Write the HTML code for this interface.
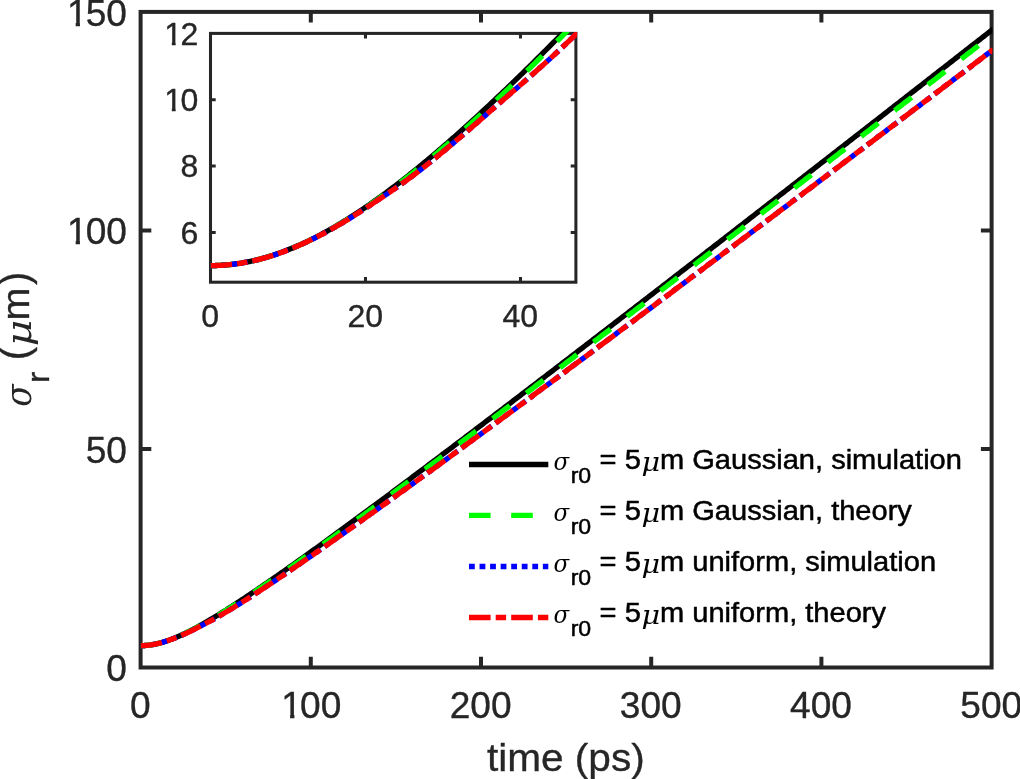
<!DOCTYPE html>
<html lang="en"><head><meta charset="utf-8"><title>sigma_r vs time</title>
<style>html,body{margin:0;padding:0;background:#fff;overflow:hidden}svg{display:block}text{font-family:"Liberation Sans",sans-serif;stroke-linejoin:round}.ax text{stroke:#262626;stroke-width:.35px}.lg text{stroke:#000;stroke-width:.5px}.lg text.g,.ax text.g{stroke:none}.g{font-family:"DejaVu Serif","Liberation Serif",serif;font-style:italic}</style></head><body>
<svg width="1020" height="779" viewBox="0 0 1020 779">
<rect width="1020" height="779" fill="#fff"/>
<defs><clipPath id="cm"><rect x="140.60" y="9.90" width="851.80" height="659.60"/></clipPath>
<clipPath id="c1m"><path clip-rule="evenodd" d="M-9,-45H130V14H-9Z M2.97,-3.90H10.68V1.86H2.97Z M14.92,-3.90H21.52V1.86H14.92Z"/></clipPath>
<clipPath id="c1i"><path clip-rule="evenodd" d="M-9,-45H130V14H-9Z M2.49,-3.27H8.88V1.56H2.49Z M12.58,-3.27H18.04V1.56H12.58Z"/></clipPath>
<clipPath id="ci"><rect x="210.50" y="32.00" width="366.60" height="250.20"/></clipPath></defs>
<g stroke="#262626" stroke-width="4.0" fill="none" stroke-linecap="butt">
<rect x="140.60" y="11.90" width="851.00" height="655.60"/>
<path d="M310.80,667.50V656.80 M310.80,11.90V22.60 M481.00,667.50V656.80 M481.00,11.90V22.60 M651.20,667.50V656.80 M651.20,11.90V22.60 M821.40,667.50V656.80 M821.40,11.90V22.60 M140.60,448.97H151.30 M991.60,448.97H980.90 M140.60,230.43H151.30 M991.60,230.43H980.90"/>
</g>
<g class="ax">
<text transform="translate(129.89,717.70) scale(1.000,1)" font-size="37.10" text-anchor="start" fill="#262626">0</text>
<text transform="translate(279.46,717.70) scale(1.000,1)" font-size="37.10" fill="#262626" dx="1.86 -1.86" clip-path="url(#c1m)">100</text>
<text transform="translate(449.66,717.70) scale(1.000,1)" font-size="37.10" text-anchor="start" fill="#262626">200</text>
<text transform="translate(619.86,717.70) scale(1.000,1)" font-size="37.10" text-anchor="start" fill="#262626">300</text>
<text transform="translate(790.06,717.70) scale(1.000,1)" font-size="37.10" text-anchor="start" fill="#262626">400</text>
<text transform="translate(960.26,717.70) scale(1.000,1)" font-size="37.10" text-anchor="start" fill="#262626">500</text>
<text transform="translate(106.27,681.10) scale(1.000,1)" font-size="37.10" text-anchor="start" fill="#262626">0</text>
<text transform="translate(85.64,462.57) scale(1.000,1)" font-size="37.10" text-anchor="start" fill="#262626">50</text>
<text transform="translate(65.02,244.03) scale(1.000,1)" font-size="37.10" fill="#262626" dx="1.86 -1.86" clip-path="url(#c1m)">100</text>
<text transform="translate(65.02,25.50) scale(1.000,1)" font-size="37.10" fill="#262626" dx="1.86 -1.86" clip-path="url(#c1m)">150</text>
</g>
<g class="ax"><text transform="translate(565.80,770.70) scale(1.025,1)" font-size="39.60" text-anchor="middle" fill="#262626">time (ps)</text></g>
<g class="ax"><text transform="translate(30.80,406.80) rotate(-90) scale(0.945,1)" font-size="34.80" fill="#262626" class="g">σ</text><text transform="translate(48.90,382.90) rotate(-90) scale(1.090,1)" font-size="31.10" fill="#262626">r</text><text transform="translate(29.00,360.30) rotate(-90) scale(1.000,1)" font-size="40.00" fill="#262626"> (</text><text transform="translate(30.90,346.35) rotate(-90) scale(1.154,1)" font-size="35.60" fill="#262626" class="g">μ</text><text transform="translate(29.00,320.40) rotate(-90) scale(1.024,1)" font-size="38.50" fill="#262626">m</text><text transform="translate(29.00,285.00) rotate(-90) scale(1.000,1)" font-size="40.00" fill="#262626">)</text></g>
<g clip-path="url(#cm)" fill="none" stroke-width="5.30" stroke-linejoin="round">
<path d="M140.60,645.65 L141.03,645.65 L141.45,645.64 L141.88,645.63 L142.30,645.63 L142.73,645.61 L143.15,645.60 L143.58,645.58 L144.00,645.56 L144.43,645.54 L144.85,645.51 L145.28,645.48 L145.71,645.45 L146.13,645.42 L146.56,645.38 L146.98,645.35 L147.41,645.31 L147.83,645.26 L148.26,645.22 L148.68,645.17 L149.11,645.11 L149.54,645.06 L149.96,645.00 L150.39,644.94 L150.81,644.88 L151.24,644.82 L151.66,644.75 L152.09,644.68 L152.51,644.61 L152.94,644.54 L153.37,644.46 L153.79,644.38 L154.22,644.30 L154.64,644.22 L155.07,644.13 L155.49,644.04 L155.92,643.95 L156.34,643.86 L156.77,643.76 L157.19,643.67 L157.62,643.57 L158.05,643.47 L158.47,643.36 L158.90,643.26 L159.32,643.15 L159.75,643.04 L160.17,642.92 L160.60,642.81 L161.02,642.69 L161.45,642.57 L161.88,642.45 L162.30,642.33 L162.73,642.20 L163.15,642.08 L163.58,641.95 L164.00,641.82 L164.43,641.68 L164.85,641.55 L165.28,641.41 L165.70,641.27 L166.13,641.13 L166.56,640.99 L166.98,640.84 L167.41,640.70 L167.83,640.55 L168.26,640.40 L168.68,640.25 L169.11,640.10 L169.53,639.94 L169.96,639.79 L170.38,639.63 L170.81,639.47 L171.24,639.31 L171.66,639.14 L172.09,638.98 L172.51,638.81 L172.94,638.65 L173.36,638.48 L173.79,638.31 L174.21,638.13 L174.64,637.96 L175.07,637.79 L175.49,637.61 L175.92,637.43 L176.34,637.25 L176.77,637.07 L177.19,636.89 L177.62,636.71 L178.04,636.52 L178.47,636.33 L178.89,636.15 L179.32,635.96 L179.75,635.77 L180.17,635.58 L180.60,635.39 L181.02,635.19 L181.45,635.00 L181.87,634.80 L182.30,634.60 L182.72,634.41 L183.15,634.21 L183.58,634.00 L184.00,633.80 L184.43,633.60 L184.85,633.40 L185.28,633.19 L185.70,632.98 L186.13,632.78 L186.55,632.57 L186.98,632.36 L187.41,632.15 L187.83,631.94 L188.26,631.73 L188.68,631.51 L189.11,631.30 L189.53,631.08 L189.96,630.87 L190.38,630.65 L190.81,630.43 L191.23,630.21 L191.66,629.99 L192.09,629.77 L192.51,629.55 L192.94,629.33 L193.36,629.10 L193.79,628.88 L194.21,628.65 L194.64,628.43 L195.06,628.20 L195.49,627.97 L195.91,627.74 L196.34,627.51 L196.77,627.28 L197.19,627.05 L197.62,626.82 L198.04,626.59 L198.47,626.36 L198.89,626.12 L199.32,625.89 L199.74,625.65 L200.17,625.42 L200.60,625.18 L201.02,624.94 L201.45,624.70 L201.87,624.47 L202.30,624.23 L202.72,623.99 L203.15,623.74 L203.57,623.50 L204.00,623.26 L204.43,623.02 L204.85,622.78 L205.28,622.53 L205.70,622.29 L206.13,622.04 L206.55,621.80 L206.98,621.55 L207.40,621.30 L207.83,621.05 L208.25,620.81 L208.68,620.56 L209.11,620.31 L209.53,620.06 L209.96,619.81 L210.38,619.56 L210.81,619.30 L211.23,619.05 L211.66,618.80 L212.08,618.55 L212.51,618.29 L212.94,618.04 L213.36,617.78 L213.79,617.53 L214.21,617.27 L214.64,617.02 L215.06,616.76 L215.49,616.50 L215.91,616.24 L216.34,615.99 L216.76,615.73 L217.19,615.47 L217.62,615.21 L218.04,614.95 L218.47,614.69 L218.89,614.43 L219.32,614.16 L219.74,613.90 L220.17,613.64 L220.59,613.38 L221.02,613.11 L221.44,612.85 L221.87,612.59 L222.30,612.32 L222.72,612.06 L223.15,611.79 L223.57,611.53 L224.00,611.26 L224.42,610.99 L224.85,610.73 L225.27,610.46 L225.70,610.19 L226.13,609.93 L226.55,609.66 L226.98,609.39 L227.40,609.12 L227.83,608.85 L228.25,608.58 L228.68,608.31 L229.10,608.04 L229.53,607.77 L229.95,607.50 L230.38,607.23 L230.81,606.95 L231.23,606.68 L231.66,606.41 L232.08,606.14 L232.51,605.86 L232.93,605.59 L233.36,605.31 L233.78,605.04 L234.21,604.77 L234.64,604.49 L235.06,604.22 L235.49,603.94 L235.91,603.66 L236.34,603.39 L236.76,603.11 L237.19,602.84 L237.61,602.56 L238.04,602.28 L238.46,602.00 L238.89,601.73 L239.32,601.45 L239.74,601.17 L240.17,600.89 L240.59,600.61 L241.02,600.33 L241.44,600.05 L241.87,599.77 L242.29,599.49 L242.72,599.21 L244.42,598.09 L246.12,596.96 L247.83,595.83 L249.53,594.69 L251.23,593.55 L252.93,592.41 L254.63,591.26 L256.34,590.11 L258.04,588.96 L259.74,587.80 L261.44,586.64 L263.14,585.48 L264.85,584.31 L266.55,583.14 L268.25,581.97 L269.95,580.80 L271.65,579.62 L273.36,578.44 L275.06,577.26 L276.76,576.07 L278.46,574.89 L280.16,573.70 L281.87,572.51 L283.57,571.31 L285.27,570.12 L286.97,568.92 L288.67,567.72 L290.38,566.52 L292.08,565.32 L293.78,564.11 L295.48,562.90 L297.18,561.69 L298.89,560.48 L300.59,559.27 L302.29,558.06 L303.99,556.84 L305.69,555.62 L307.40,554.40 L309.10,553.18 L310.80,551.96 L312.50,550.74 L314.20,549.51 L315.91,548.29 L317.61,547.06 L319.31,545.83 L321.01,544.60 L322.71,543.37 L324.42,542.13 L326.12,540.90 L327.82,539.66 L329.52,538.43 L331.22,537.19 L332.93,535.95 L334.63,534.71 L336.33,533.47 L338.03,532.23 L339.73,530.98 L341.44,529.74 L343.14,528.49 L344.84,527.25 L346.54,526.00 L348.24,524.75 L349.95,523.50 L351.65,522.25 L353.35,521.00 L355.05,519.75 L356.75,518.50 L358.46,517.24 L360.16,515.99 L361.86,514.73 L363.56,513.48 L365.26,512.22 L366.97,510.96 L368.67,509.70 L370.37,508.44 L372.07,507.18 L373.77,505.92 L375.48,504.66 L377.18,503.40 L378.88,502.13 L380.58,500.87 L382.28,499.61 L383.99,498.34 L385.69,497.07 L387.39,495.81 L389.09,494.54 L390.79,493.27 L392.50,492.00 L394.20,490.73 L395.90,489.46 L397.60,488.19 L399.30,486.92 L401.01,485.65 L402.71,484.38 L404.41,483.11 L406.11,481.83 L407.81,480.56 L409.52,479.28 L411.22,478.01 L412.92,476.73 L414.62,475.46 L416.32,474.18 L418.03,472.90 L419.73,471.62 L421.43,470.35 L423.13,469.07 L424.83,467.79 L426.54,466.51 L428.24,465.23 L429.94,463.95 L431.64,462.67 L433.34,461.39 L435.05,460.10 L436.75,458.82 L438.45,457.54 L440.15,456.25 L441.85,454.97 L443.56,453.69 L445.26,452.40 L446.96,451.12 L448.66,449.83 L450.36,448.55 L452.07,447.26 L453.77,445.97 L455.47,444.69 L457.17,443.40 L458.87,442.11 L460.58,440.82 L462.28,439.53 L463.98,438.25 L465.68,436.96 L467.38,435.67 L469.09,434.38 L470.79,433.09 L472.49,431.80 L474.19,430.50 L475.89,429.21 L477.60,427.92 L479.30,426.63 L481.00,425.34 L482.70,424.04 L484.40,422.75 L486.11,421.46 L487.81,420.16 L489.51,418.87 L491.21,417.58 L492.91,416.28 L494.62,414.99 L496.32,413.69 L498.02,412.40 L499.72,411.10 L501.42,409.80 L503.13,408.51 L504.83,407.21 L506.53,405.91 L508.23,404.62 L509.93,403.32 L511.64,402.02 L513.34,400.72 L515.04,399.42 L516.74,398.13 L518.44,396.83 L520.15,395.53 L521.85,394.23 L523.55,392.93 L525.25,391.63 L526.95,390.33 L528.66,389.03 L530.36,387.73 L532.06,386.43 L533.76,385.13 L535.46,383.82 L537.17,382.52 L538.87,381.22 L540.57,379.92 L542.27,378.62 L543.97,377.31 L545.68,376.01 L547.38,374.71 L549.08,373.41 L550.78,372.10 L552.48,370.80 L554.19,369.49 L555.89,368.19 L557.59,366.89 L559.29,365.58 L560.99,364.28 L562.70,362.97 L564.40,361.67 L566.10,360.36 L567.80,359.06 L569.50,357.75 L571.21,356.44 L572.91,355.14 L574.61,353.83 L576.31,352.53 L578.01,351.22 L579.72,349.91 L581.42,348.60 L583.12,347.30 L584.82,345.99 L586.52,344.68 L588.23,343.37 L589.93,342.07 L591.63,340.76 L593.33,339.45 L595.03,338.14 L596.74,336.83 L598.44,335.52 L600.14,334.21 L601.84,332.91 L603.54,331.60 L605.25,330.29 L606.95,328.98 L608.65,327.67 L610.35,326.36 L612.05,325.05 L613.76,323.74 L615.46,322.43 L617.16,321.12 L618.86,319.80 L620.56,318.49 L622.27,317.18 L623.97,315.87 L625.67,314.56 L627.37,313.25 L629.07,311.94 L630.78,310.62 L632.48,309.31 L634.18,308.00 L635.88,306.69 L637.58,305.38 L639.29,304.06 L640.99,302.75 L642.69,301.44 L644.39,300.12 L646.09,298.81 L647.80,297.50 L649.50,296.18 L651.20,294.87 L652.90,293.56 L654.60,292.24 L656.31,290.93 L658.01,289.61 L659.71,288.30 L661.41,286.99 L663.11,285.67 L664.82,284.36 L666.52,283.04 L668.22,281.73 L669.92,280.41 L671.62,279.10 L673.33,277.78 L675.03,276.46 L676.73,275.15 L678.43,273.83 L680.13,272.52 L681.84,271.20 L683.54,269.89 L685.24,268.57 L686.94,267.25 L688.64,265.94 L690.35,264.62 L692.05,263.30 L693.75,261.99 L695.45,260.67 L697.15,259.35 L698.86,258.04 L700.56,256.72 L702.26,255.40 L703.96,254.08 L705.66,252.77 L707.37,251.45 L709.07,250.13 L710.77,248.81 L712.47,247.49 L714.17,246.18 L715.88,244.86 L717.58,243.54 L719.28,242.22 L720.98,240.90 L722.68,239.58 L724.39,238.27 L726.09,236.95 L727.79,235.63 L729.49,234.31 L731.19,232.99 L732.90,231.67 L734.60,230.35 L736.30,229.03 L738.00,227.71 L739.70,226.39 L741.41,225.07 L743.11,223.75 L744.81,222.43 L746.51,221.11 L748.21,219.79 L749.92,218.47 L751.62,217.15 L753.32,215.83 L755.02,214.51 L756.72,213.19 L758.43,211.87 L760.13,210.55 L761.83,209.23 L763.53,207.91 L765.23,206.59 L766.94,205.27 L768.64,203.94 L770.34,202.62 L772.04,201.30 L773.74,199.98 L775.45,198.66 L777.15,197.34 L778.85,196.02 L780.55,194.69 L782.25,193.37 L783.96,192.05 L785.66,190.73 L787.36,189.41 L789.06,188.08 L790.76,186.76 L792.47,185.44 L794.17,184.12 L795.87,182.79 L797.57,181.47 L799.27,180.15 L800.98,178.83 L802.68,177.50 L804.38,176.18 L806.08,174.86 L807.78,173.53 L809.49,172.21 L811.19,170.89 L812.89,169.56 L814.59,168.24 L816.29,166.92 L818.00,165.59 L819.70,164.27 L821.40,162.95 L823.10,161.62 L824.80,160.30 L826.51,158.97 L828.21,157.65 L829.91,156.33 L831.61,155.00 L833.31,153.68 L835.02,152.35 L836.72,151.03 L838.42,149.70 L840.12,148.38 L841.82,147.06 L843.53,145.73 L845.23,144.41 L846.93,143.08 L848.63,141.76 L850.33,140.43 L852.04,139.11 L853.74,137.78 L855.44,136.46 L857.14,135.13 L858.84,133.81 L860.55,132.48 L862.25,131.16 L863.95,129.83 L865.65,128.50 L867.35,127.18 L869.06,125.85 L870.76,124.53 L872.46,123.20 L874.16,121.88 L875.86,120.55 L877.57,119.22 L879.27,117.90 L880.97,116.57 L882.67,115.25 L884.37,113.92 L886.08,112.59 L887.78,111.27 L889.48,109.94 L891.18,108.61 L892.88,107.29 L894.59,105.96 L896.29,104.63 L897.99,103.31 L899.69,101.98 L901.39,100.65 L903.10,99.33 L904.80,98.00 L906.50,96.67 L908.20,95.35 L909.90,94.02 L911.61,92.69 L913.31,91.37 L915.01,90.04 L916.71,88.71 L918.41,87.38 L920.12,86.06 L921.82,84.73 L923.52,83.40 L925.22,82.07 L926.92,80.75 L928.63,79.42 L930.33,78.09 L932.03,76.76 L933.73,75.43 L935.43,74.11 L937.14,72.78 L938.84,71.45 L940.54,70.12 L942.24,68.79 L943.94,67.47 L945.65,66.14 L947.35,64.81 L949.05,63.48 L950.75,62.15 L952.45,60.82 L954.16,59.50 L955.86,58.17 L957.56,56.84 L959.26,55.51 L960.96,54.18 L962.67,52.85 L964.37,51.52 L966.07,50.20 L967.77,48.87 L969.47,47.54 L971.18,46.21 L972.88,44.88 L974.58,43.55 L976.28,42.22 L977.98,40.89 L979.69,39.56 L981.39,38.23 L983.09,36.90 L984.79,35.57 L986.49,34.25 L988.20,32.92 L989.90,31.59 L991.60,30.26 L993.30,28.93" stroke="#000000"/>
<path d="M140.60,645.65 L141.03,645.65 L141.45,645.64 L141.88,645.63 L142.30,645.63 L142.73,645.61 L143.15,645.60 L143.58,645.58 L144.00,645.56 L144.43,645.54 L144.85,645.51 L145.28,645.49 L145.71,645.45 L146.13,645.42 L146.56,645.39 L146.98,645.35 L147.41,645.31 L147.83,645.26 L148.26,645.22 L148.68,645.17 L149.11,645.12 L149.54,645.06 L149.96,645.01 L150.39,644.95 L150.81,644.89 L151.24,644.82 L151.66,644.76 L152.09,644.69 L152.51,644.62 L152.94,644.54 L153.37,644.47 L153.79,644.39 L154.22,644.31 L154.64,644.22 L155.07,644.14 L155.49,644.05 L155.92,643.96 L156.34,643.87 L156.77,643.77 L157.19,643.68 L157.62,643.58 L158.05,643.48 L158.47,643.37 L158.90,643.27 L159.32,643.16 L159.75,643.05 L160.17,642.94 L160.60,642.82 L161.02,642.71 L161.45,642.59 L161.88,642.47 L162.30,642.35 L162.73,642.22 L163.15,642.10 L163.58,641.97 L164.00,641.84 L164.43,641.71 L164.85,641.57 L165.28,641.44 L165.70,641.30 L166.13,641.16 L166.56,641.02 L166.98,640.88 L167.41,640.73 L167.83,640.59 L168.26,640.44 L168.68,640.29 L169.11,640.14 L169.53,639.99 L169.96,639.83 L170.38,639.67 L170.81,639.52 L171.24,639.36 L171.66,639.20 L172.09,639.03 L172.51,638.87 L172.94,638.70 L173.36,638.54 L173.79,638.37 L174.21,638.20 L174.64,638.02 L175.07,637.85 L175.49,637.68 L175.92,637.50 L176.34,637.32 L176.77,637.15 L177.19,636.97 L177.62,636.78 L178.04,636.60 L178.47,636.42 L178.89,636.23 L179.32,636.05 L179.75,635.86 L180.17,635.67 L180.60,635.48 L181.02,635.29 L181.45,635.10 L181.87,634.90 L182.30,634.71 L182.72,634.51 L183.15,634.31 L183.58,634.11 L184.00,633.92 L184.43,633.71 L184.85,633.51 L185.28,633.31 L185.70,633.11 L186.13,632.90 L186.55,632.70 L186.98,632.49 L187.41,632.28 L187.83,632.07 L188.26,631.86 L188.68,631.65 L189.11,631.44 L189.53,631.23 L189.96,631.01 L190.38,630.80 L190.81,630.58 L191.23,630.37 L191.66,630.15 L192.09,629.93 L192.51,629.71 L192.94,629.49 L193.36,629.27 L193.79,629.05 L194.21,628.83 L194.64,628.60 L195.06,628.38 L195.49,628.15 L195.91,627.93 L196.34,627.70 L196.77,627.47 L197.19,627.25 L197.62,627.02 L198.04,626.79 L198.47,626.56 L198.89,626.33 L199.32,626.09 L199.74,625.86 L200.17,625.63 L200.60,625.39 L201.02,625.16 L201.45,624.92 L201.87,624.69 L202.30,624.45 L202.72,624.21 L203.15,623.98 L203.57,623.74 L204.00,623.50 L204.43,623.26 L204.85,623.02 L205.28,622.78 L205.70,622.53 L206.13,622.29 L206.55,622.05 L206.98,621.81 L207.40,621.56 L207.83,621.32 L208.25,621.07 L208.68,620.83 L209.11,620.58 L209.53,620.33 L209.96,620.08 L210.38,619.84 L210.81,619.59 L211.23,619.34 L211.66,619.09 L212.08,618.84 L212.51,618.59 L212.94,618.34 L213.36,618.08 L213.79,617.83 L214.21,617.58 L214.64,617.32 L215.06,617.07 L215.49,616.82 L215.91,616.56 L216.34,616.31 L216.76,616.05 L217.19,615.79 L217.62,615.54 L218.04,615.28 L218.47,615.02 L218.89,614.76 L219.32,614.51 L219.74,614.25 L220.17,613.99 L220.59,613.73 L221.02,613.47 L221.44,613.21 L221.87,612.95 L222.30,612.68 L222.72,612.42 L223.15,612.16 L223.57,611.90 L224.00,611.64 L224.42,611.37 L224.85,611.11 L225.27,610.84 L225.70,610.58 L226.13,610.31 L226.55,610.05 L226.98,609.78 L227.40,609.52 L227.83,609.25 L228.25,608.98 L228.68,608.72 L229.10,608.45 L229.53,608.18 L229.95,607.91 L230.38,607.64 L230.81,607.37 L231.23,607.11 L231.66,606.84 L232.08,606.57 L232.51,606.30 L232.93,606.02 L233.36,605.75 L233.78,605.48 L234.21,605.21 L234.64,604.94 L235.06,604.67 L235.49,604.39 L235.91,604.12 L236.34,603.85 L236.76,603.57 L237.19,603.30 L237.61,603.03 L238.04,602.75 L238.46,602.48 L238.89,602.20 L239.32,601.93 L239.74,601.65 L240.17,601.38 L240.59,601.10 L241.02,600.82 L241.44,600.55 L241.87,600.27 L242.29,599.99 L242.72,599.72 L244.42,598.60 L246.12,597.49 L247.83,596.37 L249.53,595.24 L251.23,594.11 L252.93,592.98 L254.63,591.85 L256.34,590.71 L258.04,589.57 L259.74,588.42 L261.44,587.27 L263.14,586.12 L264.85,584.97 L266.55,583.81 L268.25,582.65 L269.95,581.49 L271.65,580.32 L273.36,579.15 L275.06,577.98 L276.76,576.81 L278.46,575.63 L280.16,574.46 L281.87,573.28 L283.57,572.09 L285.27,570.91 L286.97,569.72 L288.67,568.54 L290.38,567.35 L292.08,566.15 L293.78,564.96 L295.48,563.76 L297.18,562.57 L298.89,561.37 L300.59,560.16 L302.29,558.96 L303.99,557.76 L305.69,556.55 L307.40,555.34 L309.10,554.13 L310.80,552.92 L312.50,551.71 L314.20,550.50 L315.91,549.28 L317.61,548.07 L319.31,546.85 L321.01,545.63 L322.71,544.41 L324.42,543.19 L326.12,541.96 L327.82,540.74 L329.52,539.51 L331.22,538.29 L332.93,537.06 L334.63,535.83 L336.33,534.60 L338.03,533.37 L339.73,532.14 L341.44,530.90 L343.14,529.67 L344.84,528.43 L346.54,527.20 L348.24,525.96 L349.95,524.72 L351.65,523.48 L353.35,522.24 L355.05,521.00 L356.75,519.76 L358.46,518.52 L360.16,517.27 L361.86,516.03 L363.56,514.78 L365.26,513.54 L366.97,512.29 L368.67,511.04 L370.37,509.79 L372.07,508.54 L373.77,507.29 L375.48,506.04 L377.18,504.79 L378.88,503.54 L380.58,502.28 L382.28,501.03 L383.99,499.78 L385.69,498.52 L387.39,497.27 L389.09,496.01 L390.79,494.75 L392.50,493.49 L394.20,492.24 L395.90,490.98 L397.60,489.72 L399.30,488.46 L401.01,487.20 L402.71,485.93 L404.41,484.67 L406.11,483.41 L407.81,482.15 L409.52,480.88 L411.22,479.62 L412.92,478.35 L414.62,477.09 L416.32,475.82 L418.03,474.56 L419.73,473.29 L421.43,472.02 L423.13,470.75 L424.83,469.49 L426.54,468.22 L428.24,466.95 L429.94,465.68 L431.64,464.41 L433.34,463.14 L435.05,461.87 L436.75,460.59 L438.45,459.32 L440.15,458.05 L441.85,456.78 L443.56,455.50 L445.26,454.23 L446.96,452.95 L448.66,451.68 L450.36,450.40 L452.07,449.13 L453.77,447.85 L455.47,446.58 L457.17,445.30 L458.87,444.02 L460.58,442.75 L462.28,441.47 L463.98,440.19 L465.68,438.91 L467.38,437.63 L469.09,436.35 L470.79,435.07 L472.49,433.79 L474.19,432.51 L475.89,431.23 L477.60,429.95 L479.30,428.67 L481.00,427.39 L482.70,426.11 L484.40,424.82 L486.11,423.54 L487.81,422.26 L489.51,420.97 L491.21,419.69 L492.91,418.41 L494.62,417.12 L496.32,415.84 L498.02,414.55 L499.72,413.27 L501.42,411.98 L503.13,410.70 L504.83,409.41 L506.53,408.13 L508.23,406.84 L509.93,405.55 L511.64,404.26 L513.34,402.98 L515.04,401.69 L516.74,400.40 L518.44,399.11 L520.15,397.83 L521.85,396.54 L523.55,395.25 L525.25,393.96 L526.95,392.67 L528.66,391.38 L530.36,390.09 L532.06,388.80 L533.76,387.51 L535.46,386.22 L537.17,384.93 L538.87,383.64 L540.57,382.34 L542.27,381.05 L543.97,379.76 L545.68,378.47 L547.38,377.18 L549.08,375.88 L550.78,374.59 L552.48,373.30 L554.19,372.00 L555.89,370.71 L557.59,369.42 L559.29,368.12 L560.99,366.83 L562.70,365.54 L564.40,364.24 L566.10,362.95 L567.80,361.65 L569.50,360.36 L571.21,359.06 L572.91,357.77 L574.61,356.47 L576.31,355.17 L578.01,353.88 L579.72,352.58 L581.42,351.29 L583.12,349.99 L584.82,348.69 L586.52,347.40 L588.23,346.10 L589.93,344.80 L591.63,343.50 L593.33,342.21 L595.03,340.91 L596.74,339.61 L598.44,338.31 L600.14,337.01 L601.84,335.71 L603.54,334.42 L605.25,333.12 L606.95,331.82 L608.65,330.52 L610.35,329.22 L612.05,327.92 L613.76,326.62 L615.46,325.32 L617.16,324.02 L618.86,322.72 L620.56,321.42 L622.27,320.12 L623.97,318.82 L625.67,317.52 L627.37,316.22 L629.07,314.91 L630.78,313.61 L632.48,312.31 L634.18,311.01 L635.88,309.71 L637.58,308.41 L639.29,307.10 L640.99,305.80 L642.69,304.50 L644.39,303.20 L646.09,301.89 L647.80,300.59 L649.50,299.29 L651.20,297.99 L652.90,296.68 L654.60,295.38 L656.31,294.08 L658.01,292.77 L659.71,291.47 L661.41,290.16 L663.11,288.86 L664.82,287.56 L666.52,286.25 L668.22,284.95 L669.92,283.64 L671.62,282.34 L673.33,281.03 L675.03,279.73 L676.73,278.42 L678.43,277.12 L680.13,275.81 L681.84,274.51 L683.54,273.20 L685.24,271.90 L686.94,270.59 L688.64,269.29 L690.35,267.98 L692.05,266.67 L693.75,265.37 L695.45,264.06 L697.15,262.75 L698.86,261.45 L700.56,260.14 L702.26,258.83 L703.96,257.53 L705.66,256.22 L707.37,254.91 L709.07,253.61 L710.77,252.30 L712.47,250.99 L714.17,249.68 L715.88,248.38 L717.58,247.07 L719.28,245.76 L720.98,244.45 L722.68,243.14 L724.39,241.84 L726.09,240.53 L727.79,239.22 L729.49,237.91 L731.19,236.60 L732.90,235.29 L734.60,233.99 L736.30,232.68 L738.00,231.37 L739.70,230.06 L741.41,228.75 L743.11,227.44 L744.81,226.13 L746.51,224.82 L748.21,223.51 L749.92,222.20 L751.62,220.89 L753.32,219.58 L755.02,218.27 L756.72,216.96 L758.43,215.65 L760.13,214.34 L761.83,213.03 L763.53,211.72 L765.23,210.41 L766.94,209.10 L768.64,207.79 L770.34,206.48 L772.04,205.17 L773.74,203.86 L775.45,202.55 L777.15,201.24 L778.85,199.92 L780.55,198.61 L782.25,197.30 L783.96,195.99 L785.66,194.68 L787.36,193.37 L789.06,192.06 L790.76,190.74 L792.47,189.43 L794.17,188.12 L795.87,186.81 L797.57,185.50 L799.27,184.18 L800.98,182.87 L802.68,181.56 L804.38,180.25 L806.08,178.93 L807.78,177.62 L809.49,176.31 L811.19,175.00 L812.89,173.68 L814.59,172.37 L816.29,171.06 L818.00,169.74 L819.70,168.43 L821.40,167.12 L823.10,165.80 L824.80,164.49 L826.51,163.18 L828.21,161.86 L829.91,160.55 L831.61,159.24 L833.31,157.92 L835.02,156.61 L836.72,155.30 L838.42,153.98 L840.12,152.67 L841.82,151.35 L843.53,150.04 L845.23,148.73 L846.93,147.41 L848.63,146.10 L850.33,144.78 L852.04,143.47 L853.74,142.15 L855.44,140.84 L857.14,139.53 L858.84,138.21 L860.55,136.90 L862.25,135.58 L863.95,134.27 L865.65,132.95 L867.35,131.64 L869.06,130.32 L870.76,129.01 L872.46,127.69 L874.16,126.38 L875.86,125.06 L877.57,123.74 L879.27,122.43 L880.97,121.11 L882.67,119.80 L884.37,118.48 L886.08,117.17 L887.78,115.85 L889.48,114.53 L891.18,113.22 L892.88,111.90 L894.59,110.59 L896.29,109.27 L897.99,107.95 L899.69,106.64 L901.39,105.32 L903.10,104.01 L904.80,102.69 L906.50,101.37 L908.20,100.06 L909.90,98.74 L911.61,97.42 L913.31,96.11 L915.01,94.79 L916.71,93.47 L918.41,92.16 L920.12,90.84 L921.82,89.52 L923.52,88.21 L925.22,86.89 L926.92,85.57 L928.63,84.25 L930.33,82.94 L932.03,81.62 L933.73,80.30 L935.43,78.98 L937.14,77.67 L938.84,76.35 L940.54,75.03 L942.24,73.71 L943.94,72.40 L945.65,71.08 L947.35,69.76 L949.05,68.44 L950.75,67.13 L952.45,65.81 L954.16,64.49 L955.86,63.17 L957.56,61.85 L959.26,60.54 L960.96,59.22 L962.67,57.90 L964.37,56.58 L966.07,55.26 L967.77,53.94 L969.47,52.63 L971.18,51.31 L972.88,49.99 L974.58,48.67 L976.28,47.35 L977.98,46.03 L979.69,44.71 L981.39,43.40 L983.09,42.08 L984.79,40.76 L986.49,39.44 L988.20,38.12 L989.90,36.80 L991.60,35.48 L993.30,34.16" stroke="#00ff00" stroke-dasharray="21.6 20.6"/>
<path d="M140.60,645.65 L141.03,645.65 L141.45,645.64 L141.88,645.63 L142.30,645.63 L142.73,645.61 L143.15,645.60 L143.58,645.58 L144.00,645.56 L144.43,645.54 L144.85,645.51 L145.28,645.49 L145.71,645.46 L146.13,645.42 L146.56,645.39 L146.98,645.35 L147.41,645.31 L147.83,645.27 L148.26,645.22 L148.68,645.17 L149.11,645.12 L149.54,645.07 L149.96,645.01 L150.39,644.95 L150.81,644.89 L151.24,644.83 L151.66,644.76 L152.09,644.69 L152.51,644.62 L152.94,644.55 L153.37,644.47 L153.79,644.39 L154.22,644.31 L154.64,644.23 L155.07,644.15 L155.49,644.06 L155.92,643.97 L156.34,643.88 L156.77,643.78 L157.19,643.68 L157.62,643.59 L158.05,643.48 L158.47,643.38 L158.90,643.28 L159.32,643.17 L159.75,643.06 L160.17,642.95 L160.60,642.83 L161.02,642.72 L161.45,642.60 L161.88,642.48 L162.30,642.36 L162.73,642.24 L163.15,642.11 L163.58,641.98 L164.00,641.86 L164.43,641.72 L164.85,641.59 L165.28,641.46 L165.70,641.32 L166.13,641.18 L166.56,641.04 L166.98,640.90 L167.41,640.76 L167.83,640.62 L168.26,640.47 L168.68,640.32 L169.11,640.17 L169.53,640.02 L169.96,639.87 L170.38,639.71 L170.81,639.56 L171.24,639.40 L171.66,639.24 L172.09,639.08 L172.51,638.92 L172.94,638.76 L173.36,638.59 L173.79,638.43 L174.21,638.26 L174.64,638.09 L175.07,637.92 L175.49,637.75 L175.92,637.58 L176.34,637.42 L176.77,637.25 L177.19,637.08 L177.62,636.91 L178.04,636.74 L178.47,636.57 L178.89,636.40 L179.32,636.22 L179.75,636.05 L180.17,635.88 L180.60,635.70 L181.02,635.53 L181.45,635.35 L181.87,635.17 L182.30,634.99 L182.72,634.81 L183.15,634.63 L183.58,634.44 L184.00,634.26 L184.43,634.07 L184.85,633.88 L185.28,633.68 L185.70,633.49 L186.13,633.29 L186.55,633.10 L186.98,632.90 L187.41,632.70 L187.83,632.50 L188.26,632.30 L188.68,632.09 L189.11,631.89 L189.53,631.68 L189.96,631.48 L190.38,631.27 L190.81,631.06 L191.23,630.85 L191.66,630.64 L192.09,630.43 L192.51,630.22 L192.94,630.00 L193.36,629.79 L193.79,629.58 L194.21,629.36 L194.64,629.14 L195.06,628.93 L195.49,628.71 L195.91,628.49 L196.34,628.27 L196.77,628.05 L197.19,627.83 L197.62,627.61 L198.04,627.39 L198.47,627.17 L198.89,626.95 L199.32,626.72 L199.74,626.50 L200.17,626.28 L200.60,626.05 L201.02,625.83 L201.45,625.61 L201.87,625.38 L202.30,625.16 L202.72,624.94 L203.15,624.71 L203.57,624.49 L204.00,624.27 L204.43,624.05 L204.85,623.82 L205.28,623.60 L205.70,623.38 L206.13,623.16 L206.55,622.94 L206.98,622.72 L207.40,622.50 L207.83,622.28 L208.25,622.05 L208.68,621.83 L209.11,621.61 L209.53,621.39 L209.96,621.17 L210.38,620.94 L210.81,620.72 L211.23,620.49 L211.66,620.27 L212.08,620.04 L212.51,619.82 L212.94,619.59 L213.36,619.36 L213.79,619.14 L214.21,618.91 L214.64,618.68 L215.06,618.44 L215.49,618.21 L215.91,617.98 L216.34,617.74 L216.76,617.51 L217.19,617.27 L217.62,617.03 L218.04,616.79 L218.47,616.55 L218.89,616.31 L219.32,616.06 L219.74,615.82 L220.17,615.57 L220.59,615.33 L221.02,615.08 L221.44,614.83 L221.87,614.58 L222.30,614.33 L222.72,614.08 L223.15,613.83 L223.57,613.58 L224.00,613.33 L224.42,613.08 L224.85,612.83 L225.27,612.58 L225.70,612.32 L226.13,612.07 L226.55,611.81 L226.98,611.56 L227.40,611.30 L227.83,611.05 L228.25,610.79 L228.68,610.53 L229.10,610.28 L229.53,610.02 L229.95,609.76 L230.38,609.50 L230.81,609.24 L231.23,608.98 L231.66,608.72 L232.08,608.46 L232.51,608.20 L232.93,607.94 L233.36,607.68 L233.78,607.42 L234.21,607.15 L234.64,606.89 L235.06,606.63 L235.49,606.36 L235.91,606.10 L236.34,605.84 L236.76,605.57 L237.19,605.31 L237.61,605.04 L238.04,604.77 L238.46,604.51 L238.89,604.24 L239.32,603.98 L239.74,603.71 L240.17,603.44 L240.59,603.17 L241.02,602.91 L241.44,602.64 L241.87,602.37 L242.29,602.10 L242.72,601.83 L244.42,600.76 L246.12,599.68 L247.83,598.59 L249.53,597.50 L251.23,596.40 L252.93,595.31 L254.63,594.20 L256.34,593.10 L258.04,591.98 L259.74,590.87 L261.44,589.75 L263.14,588.63 L264.85,587.51 L266.55,586.38 L268.25,585.25 L269.95,584.12 L271.65,582.98 L273.36,581.84 L275.06,580.70 L276.76,579.55 L278.46,578.41 L280.16,577.26 L281.87,576.11 L283.57,574.95 L285.27,573.80 L286.97,572.64 L288.67,571.48 L290.38,570.32 L292.08,569.15 L293.78,567.99 L295.48,566.82 L297.18,565.65 L298.89,564.48 L300.59,563.31 L302.29,562.13 L303.99,560.96 L305.69,559.78 L307.40,558.60 L309.10,557.42 L310.80,556.24 L312.50,555.06 L314.20,553.88 L315.91,552.70 L317.61,551.51 L319.31,550.32 L321.01,549.14 L322.71,547.95 L324.42,546.76 L326.12,545.56 L327.82,544.37 L329.52,543.18 L331.22,541.98 L332.93,540.79 L334.63,539.59 L336.33,538.39 L338.03,537.19 L339.73,535.99 L341.44,534.79 L343.14,533.59 L344.84,532.38 L346.54,531.18 L348.24,529.97 L349.95,528.77 L351.65,527.56 L353.35,526.35 L355.05,525.14 L356.75,523.93 L358.46,522.72 L360.16,521.51 L361.86,520.30 L363.56,519.08 L365.26,517.87 L366.97,516.66 L368.67,515.44 L370.37,514.22 L372.07,513.01 L373.77,511.79 L375.48,510.57 L377.18,509.35 L378.88,508.13 L380.58,506.91 L382.28,505.69 L383.99,504.47 L385.69,503.25 L387.39,502.02 L389.09,500.80 L390.79,499.57 L392.50,498.35 L394.20,497.12 L395.90,495.90 L397.60,494.67 L399.30,493.44 L401.01,492.21 L402.71,490.98 L404.41,489.75 L406.11,488.52 L407.81,487.29 L409.52,486.06 L411.22,484.83 L412.92,483.60 L414.62,482.37 L416.32,481.13 L418.03,479.90 L419.73,478.66 L421.43,477.43 L423.13,476.19 L424.83,474.96 L426.54,473.72 L428.24,472.48 L429.94,471.25 L431.64,470.01 L433.34,468.77 L435.05,467.53 L436.75,466.29 L438.45,465.05 L440.15,463.81 L441.85,462.57 L443.56,461.33 L445.26,460.09 L446.96,458.84 L448.66,457.60 L450.36,456.36 L452.07,455.12 L453.77,453.87 L455.47,452.63 L457.17,451.38 L458.87,450.14 L460.58,448.89 L462.28,447.65 L463.98,446.40 L465.68,445.15 L467.38,443.90 L469.09,442.66 L470.79,441.41 L472.49,440.16 L474.19,438.91 L475.89,437.66 L477.60,436.41 L479.30,435.16 L481.00,433.91 L482.70,432.66 L484.40,431.41 L486.11,430.16 L487.81,428.90 L489.51,427.65 L491.21,426.40 L492.91,425.15 L494.62,423.89 L496.32,422.64 L498.02,421.39 L499.72,420.13 L501.42,418.88 L503.13,417.62 L504.83,416.37 L506.53,415.11 L508.23,413.86 L509.93,412.60 L511.64,411.34 L513.34,410.09 L515.04,408.83 L516.74,407.57 L518.44,406.31 L520.15,405.06 L521.85,403.80 L523.55,402.54 L525.25,401.28 L526.95,400.02 L528.66,398.76 L530.36,397.51 L532.06,396.25 L533.76,394.99 L535.46,393.73 L537.17,392.47 L538.87,391.21 L540.57,389.94 L542.27,388.68 L543.97,387.42 L545.68,386.16 L547.38,384.90 L549.08,383.64 L550.78,382.38 L552.48,381.11 L554.19,379.85 L555.89,378.59 L557.59,377.32 L559.29,376.06 L560.99,374.80 L562.70,373.53 L564.40,372.27 L566.10,371.01 L567.80,369.74 L569.50,368.48 L571.21,367.21 L572.91,365.95 L574.61,364.68 L576.31,363.42 L578.01,362.15 L579.72,360.89 L581.42,359.62 L583.12,358.35 L584.82,357.09 L586.52,355.82 L588.23,354.55 L589.93,353.29 L591.63,352.02 L593.33,350.75 L595.03,349.48 L596.74,348.22 L598.44,346.95 L600.14,345.68 L601.84,344.41 L603.54,343.14 L605.25,341.88 L606.95,340.61 L608.65,339.34 L610.35,338.07 L612.05,336.80 L613.76,335.53 L615.46,334.26 L617.16,332.99 L618.86,331.72 L620.56,330.45 L622.27,329.18 L623.97,327.91 L625.67,326.64 L627.37,325.37 L629.07,324.10 L630.78,322.83 L632.48,321.55 L634.18,320.28 L635.88,319.01 L637.58,317.74 L639.29,316.47 L640.99,315.20 L642.69,313.92 L644.39,312.65 L646.09,311.38 L647.80,310.11 L649.50,308.83 L651.20,307.56 L652.90,306.29 L654.60,305.01 L656.31,303.74 L658.01,302.47 L659.71,301.19 L661.41,299.92 L663.11,298.65 L664.82,297.37 L666.52,296.10 L668.22,294.82 L669.92,293.55 L671.62,292.27 L673.33,291.00 L675.03,289.72 L676.73,288.45 L678.43,287.17 L680.13,285.90 L681.84,284.62 L683.54,283.35 L685.24,282.07 L686.94,280.79 L688.64,279.52 L690.35,278.24 L692.05,276.97 L693.75,275.69 L695.45,274.41 L697.15,273.14 L698.86,271.86 L700.56,270.58 L702.26,269.31 L703.96,268.03 L705.66,266.75 L707.37,265.47 L709.07,264.20 L710.77,262.92 L712.47,261.64 L714.17,260.36 L715.88,259.08 L717.58,257.81 L719.28,256.53 L720.98,255.25 L722.68,253.97 L724.39,252.69 L726.09,251.41 L727.79,250.14 L729.49,248.86 L731.19,247.58 L732.90,246.30 L734.60,245.02 L736.30,243.74 L738.00,242.46 L739.70,241.18 L741.41,239.90 L743.11,238.62 L744.81,237.34 L746.51,236.06 L748.21,234.78 L749.92,233.50 L751.62,232.22 L753.32,230.94 L755.02,229.66 L756.72,228.38 L758.43,227.10 L760.13,225.82 L761.83,224.54 L763.53,223.25 L765.23,221.97 L766.94,220.69 L768.64,219.41 L770.34,218.13 L772.04,216.85 L773.74,215.57 L775.45,214.28 L777.15,213.00 L778.85,211.72 L780.55,210.44 L782.25,209.16 L783.96,207.87 L785.66,206.59 L787.36,205.31 L789.06,204.03 L790.76,202.74 L792.47,201.46 L794.17,200.18 L795.87,198.89 L797.57,197.61 L799.27,196.33 L800.98,195.05 L802.68,193.76 L804.38,192.48 L806.08,191.19 L807.78,189.91 L809.49,188.63 L811.19,187.34 L812.89,186.06 L814.59,184.78 L816.29,183.49 L818.00,182.21 L819.70,180.92 L821.40,179.64 L823.10,178.35 L824.80,177.07 L826.51,175.79 L828.21,174.50 L829.91,173.22 L831.61,171.93 L833.31,170.65 L835.02,169.36 L836.72,168.08 L838.42,166.79 L840.12,165.51 L841.82,164.22 L843.53,162.93 L845.23,161.65 L846.93,160.36 L848.63,159.08 L850.33,157.79 L852.04,156.51 L853.74,155.22 L855.44,153.93 L857.14,152.65 L858.84,151.36 L860.55,150.08 L862.25,148.79 L863.95,147.50 L865.65,146.22 L867.35,144.93 L869.06,143.64 L870.76,142.36 L872.46,141.07 L874.16,139.78 L875.86,138.49 L877.57,137.21 L879.27,135.92 L880.97,134.63 L882.67,133.35 L884.37,132.06 L886.08,130.77 L887.78,129.48 L889.48,128.20 L891.18,126.91 L892.88,125.62 L894.59,124.33 L896.29,123.04 L897.99,121.76 L899.69,120.47 L901.39,119.18 L903.10,117.89 L904.80,116.60 L906.50,115.32 L908.20,114.03 L909.90,112.74 L911.61,111.45 L913.31,110.16 L915.01,108.87 L916.71,107.58 L918.41,106.29 L920.12,105.01 L921.82,103.72 L923.52,102.43 L925.22,101.14 L926.92,99.85 L928.63,98.56 L930.33,97.27 L932.03,95.98 L933.73,94.69 L935.43,93.40 L937.14,92.11 L938.84,90.82 L940.54,89.53 L942.24,88.24 L943.94,86.95 L945.65,85.66 L947.35,84.37 L949.05,83.08 L950.75,81.79 L952.45,80.50 L954.16,79.21 L955.86,77.92 L957.56,76.63 L959.26,75.34 L960.96,74.05 L962.67,72.76 L964.37,71.47 L966.07,70.18 L967.77,68.88 L969.47,67.59 L971.18,66.30 L972.88,65.01 L974.58,63.72 L976.28,62.43 L977.98,61.14 L979.69,59.85 L981.39,58.56 L983.09,57.26 L984.79,55.97 L986.49,54.68 L988.20,53.39 L989.90,52.10 L991.60,50.80 L993.30,49.51" stroke="#0000ff" stroke-dasharray="5.8 4.75"/>
<path d="M140.60,645.65 L141.03,645.65 L141.45,645.64 L141.88,645.63 L142.30,645.63 L142.73,645.61 L143.15,645.60 L143.58,645.58 L144.00,645.56 L144.43,645.54 L144.85,645.51 L145.28,645.49 L145.71,645.46 L146.13,645.42 L146.56,645.39 L146.98,645.35 L147.41,645.31 L147.83,645.27 L148.26,645.22 L148.68,645.17 L149.11,645.12 L149.54,645.07 L149.96,645.01 L150.39,644.95 L150.81,644.89 L151.24,644.83 L151.66,644.76 L152.09,644.69 L152.51,644.62 L152.94,644.55 L153.37,644.47 L153.79,644.39 L154.22,644.31 L154.64,644.23 L155.07,644.15 L155.49,644.06 L155.92,643.97 L156.34,643.88 L156.77,643.78 L157.19,643.68 L157.62,643.59 L158.05,643.48 L158.47,643.38 L158.90,643.28 L159.32,643.17 L159.75,643.06 L160.17,642.95 L160.60,642.83 L161.02,642.72 L161.45,642.60 L161.88,642.48 L162.30,642.36 L162.73,642.24 L163.15,642.11 L163.58,641.98 L164.00,641.86 L164.43,641.72 L164.85,641.59 L165.28,641.46 L165.70,641.32 L166.13,641.18 L166.56,641.04 L166.98,640.90 L167.41,640.76 L167.83,640.62 L168.26,640.47 L168.68,640.32 L169.11,640.17 L169.53,640.02 L169.96,639.87 L170.38,639.71 L170.81,639.56 L171.24,639.40 L171.66,639.24 L172.09,639.08 L172.51,638.92 L172.94,638.76 L173.36,638.59 L173.79,638.43 L174.21,638.26 L174.64,638.09 L175.07,637.92 L175.49,637.75 L175.92,637.58 L176.34,637.42 L176.77,637.25 L177.19,637.08 L177.62,636.91 L178.04,636.74 L178.47,636.57 L178.89,636.40 L179.32,636.22 L179.75,636.05 L180.17,635.88 L180.60,635.70 L181.02,635.53 L181.45,635.35 L181.87,635.17 L182.30,634.99 L182.72,634.81 L183.15,634.63 L183.58,634.44 L184.00,634.26 L184.43,634.07 L184.85,633.88 L185.28,633.68 L185.70,633.49 L186.13,633.29 L186.55,633.10 L186.98,632.90 L187.41,632.70 L187.83,632.50 L188.26,632.30 L188.68,632.09 L189.11,631.89 L189.53,631.68 L189.96,631.48 L190.38,631.27 L190.81,631.06 L191.23,630.85 L191.66,630.64 L192.09,630.43 L192.51,630.22 L192.94,630.00 L193.36,629.79 L193.79,629.58 L194.21,629.36 L194.64,629.14 L195.06,628.93 L195.49,628.71 L195.91,628.49 L196.34,628.27 L196.77,628.05 L197.19,627.83 L197.62,627.61 L198.04,627.39 L198.47,627.17 L198.89,626.95 L199.32,626.72 L199.74,626.50 L200.17,626.28 L200.60,626.05 L201.02,625.83 L201.45,625.61 L201.87,625.38 L202.30,625.16 L202.72,624.94 L203.15,624.71 L203.57,624.49 L204.00,624.27 L204.43,624.05 L204.85,623.82 L205.28,623.60 L205.70,623.38 L206.13,623.16 L206.55,622.94 L206.98,622.72 L207.40,622.50 L207.83,622.28 L208.25,622.05 L208.68,621.83 L209.11,621.61 L209.53,621.39 L209.96,621.17 L210.38,620.94 L210.81,620.72 L211.23,620.49 L211.66,620.27 L212.08,620.04 L212.51,619.82 L212.94,619.59 L213.36,619.36 L213.79,619.14 L214.21,618.91 L214.64,618.68 L215.06,618.44 L215.49,618.21 L215.91,617.98 L216.34,617.74 L216.76,617.51 L217.19,617.27 L217.62,617.03 L218.04,616.79 L218.47,616.55 L218.89,616.31 L219.32,616.06 L219.74,615.82 L220.17,615.57 L220.59,615.33 L221.02,615.08 L221.44,614.83 L221.87,614.58 L222.30,614.33 L222.72,614.08 L223.15,613.83 L223.57,613.58 L224.00,613.33 L224.42,613.08 L224.85,612.83 L225.27,612.58 L225.70,612.32 L226.13,612.07 L226.55,611.81 L226.98,611.56 L227.40,611.30 L227.83,611.05 L228.25,610.79 L228.68,610.53 L229.10,610.28 L229.53,610.02 L229.95,609.76 L230.38,609.50 L230.81,609.24 L231.23,608.98 L231.66,608.72 L232.08,608.46 L232.51,608.20 L232.93,607.94 L233.36,607.68 L233.78,607.42 L234.21,607.15 L234.64,606.89 L235.06,606.63 L235.49,606.36 L235.91,606.10 L236.34,605.84 L236.76,605.57 L237.19,605.31 L237.61,605.04 L238.04,604.77 L238.46,604.51 L238.89,604.24 L239.32,603.98 L239.74,603.71 L240.17,603.44 L240.59,603.17 L241.02,602.91 L241.44,602.64 L241.87,602.37 L242.29,602.10 L242.72,601.83 L244.42,600.76 L246.12,599.68 L247.83,598.59 L249.53,597.50 L251.23,596.40 L252.93,595.31 L254.63,594.20 L256.34,593.10 L258.04,591.98 L259.74,590.87 L261.44,589.75 L263.14,588.63 L264.85,587.51 L266.55,586.38 L268.25,585.25 L269.95,584.12 L271.65,582.98 L273.36,581.84 L275.06,580.70 L276.76,579.55 L278.46,578.41 L280.16,577.26 L281.87,576.11 L283.57,574.95 L285.27,573.80 L286.97,572.64 L288.67,571.48 L290.38,570.32 L292.08,569.15 L293.78,567.99 L295.48,566.82 L297.18,565.65 L298.89,564.48 L300.59,563.31 L302.29,562.13 L303.99,560.96 L305.69,559.78 L307.40,558.60 L309.10,557.42 L310.80,556.24 L312.50,555.06 L314.20,553.88 L315.91,552.70 L317.61,551.51 L319.31,550.32 L321.01,549.14 L322.71,547.95 L324.42,546.76 L326.12,545.56 L327.82,544.37 L329.52,543.18 L331.22,541.98 L332.93,540.79 L334.63,539.59 L336.33,538.39 L338.03,537.19 L339.73,535.99 L341.44,534.79 L343.14,533.59 L344.84,532.38 L346.54,531.18 L348.24,529.97 L349.95,528.77 L351.65,527.56 L353.35,526.35 L355.05,525.14 L356.75,523.93 L358.46,522.72 L360.16,521.51 L361.86,520.30 L363.56,519.08 L365.26,517.87 L366.97,516.66 L368.67,515.44 L370.37,514.22 L372.07,513.01 L373.77,511.79 L375.48,510.57 L377.18,509.35 L378.88,508.13 L380.58,506.91 L382.28,505.69 L383.99,504.47 L385.69,503.25 L387.39,502.02 L389.09,500.80 L390.79,499.57 L392.50,498.35 L394.20,497.12 L395.90,495.90 L397.60,494.67 L399.30,493.44 L401.01,492.21 L402.71,490.98 L404.41,489.75 L406.11,488.52 L407.81,487.29 L409.52,486.06 L411.22,484.83 L412.92,483.60 L414.62,482.37 L416.32,481.13 L418.03,479.90 L419.73,478.66 L421.43,477.43 L423.13,476.19 L424.83,474.96 L426.54,473.72 L428.24,472.48 L429.94,471.25 L431.64,470.01 L433.34,468.77 L435.05,467.53 L436.75,466.29 L438.45,465.05 L440.15,463.81 L441.85,462.57 L443.56,461.33 L445.26,460.09 L446.96,458.84 L448.66,457.60 L450.36,456.36 L452.07,455.12 L453.77,453.87 L455.47,452.63 L457.17,451.38 L458.87,450.14 L460.58,448.89 L462.28,447.65 L463.98,446.40 L465.68,445.15 L467.38,443.90 L469.09,442.66 L470.79,441.41 L472.49,440.16 L474.19,438.91 L475.89,437.66 L477.60,436.41 L479.30,435.16 L481.00,433.91 L482.70,432.66 L484.40,431.41 L486.11,430.16 L487.81,428.90 L489.51,427.65 L491.21,426.40 L492.91,425.15 L494.62,423.89 L496.32,422.64 L498.02,421.39 L499.72,420.13 L501.42,418.88 L503.13,417.62 L504.83,416.37 L506.53,415.11 L508.23,413.86 L509.93,412.60 L511.64,411.34 L513.34,410.09 L515.04,408.83 L516.74,407.57 L518.44,406.31 L520.15,405.06 L521.85,403.80 L523.55,402.54 L525.25,401.28 L526.95,400.02 L528.66,398.76 L530.36,397.51 L532.06,396.25 L533.76,394.99 L535.46,393.73 L537.17,392.47 L538.87,391.21 L540.57,389.94 L542.27,388.68 L543.97,387.42 L545.68,386.16 L547.38,384.90 L549.08,383.64 L550.78,382.38 L552.48,381.11 L554.19,379.85 L555.89,378.59 L557.59,377.32 L559.29,376.06 L560.99,374.80 L562.70,373.53 L564.40,372.27 L566.10,371.01 L567.80,369.74 L569.50,368.48 L571.21,367.21 L572.91,365.95 L574.61,364.68 L576.31,363.42 L578.01,362.15 L579.72,360.89 L581.42,359.62 L583.12,358.35 L584.82,357.09 L586.52,355.82 L588.23,354.55 L589.93,353.29 L591.63,352.02 L593.33,350.75 L595.03,349.48 L596.74,348.22 L598.44,346.95 L600.14,345.68 L601.84,344.41 L603.54,343.14 L605.25,341.88 L606.95,340.61 L608.65,339.34 L610.35,338.07 L612.05,336.80 L613.76,335.53 L615.46,334.26 L617.16,332.99 L618.86,331.72 L620.56,330.45 L622.27,329.18 L623.97,327.91 L625.67,326.64 L627.37,325.37 L629.07,324.10 L630.78,322.83 L632.48,321.55 L634.18,320.28 L635.88,319.01 L637.58,317.74 L639.29,316.47 L640.99,315.20 L642.69,313.92 L644.39,312.65 L646.09,311.38 L647.80,310.11 L649.50,308.83 L651.20,307.56 L652.90,306.29 L654.60,305.01 L656.31,303.74 L658.01,302.47 L659.71,301.19 L661.41,299.92 L663.11,298.65 L664.82,297.37 L666.52,296.10 L668.22,294.82 L669.92,293.55 L671.62,292.27 L673.33,291.00 L675.03,289.72 L676.73,288.45 L678.43,287.17 L680.13,285.90 L681.84,284.62 L683.54,283.35 L685.24,282.07 L686.94,280.79 L688.64,279.52 L690.35,278.24 L692.05,276.97 L693.75,275.69 L695.45,274.41 L697.15,273.14 L698.86,271.86 L700.56,270.58 L702.26,269.31 L703.96,268.03 L705.66,266.75 L707.37,265.47 L709.07,264.20 L710.77,262.92 L712.47,261.64 L714.17,260.36 L715.88,259.08 L717.58,257.81 L719.28,256.53 L720.98,255.25 L722.68,253.97 L724.39,252.69 L726.09,251.41 L727.79,250.14 L729.49,248.86 L731.19,247.58 L732.90,246.30 L734.60,245.02 L736.30,243.74 L738.00,242.46 L739.70,241.18 L741.41,239.90 L743.11,238.62 L744.81,237.34 L746.51,236.06 L748.21,234.78 L749.92,233.50 L751.62,232.22 L753.32,230.94 L755.02,229.66 L756.72,228.38 L758.43,227.10 L760.13,225.82 L761.83,224.54 L763.53,223.25 L765.23,221.97 L766.94,220.69 L768.64,219.41 L770.34,218.13 L772.04,216.85 L773.74,215.57 L775.45,214.28 L777.15,213.00 L778.85,211.72 L780.55,210.44 L782.25,209.16 L783.96,207.87 L785.66,206.59 L787.36,205.31 L789.06,204.03 L790.76,202.74 L792.47,201.46 L794.17,200.18 L795.87,198.89 L797.57,197.61 L799.27,196.33 L800.98,195.05 L802.68,193.76 L804.38,192.48 L806.08,191.19 L807.78,189.91 L809.49,188.63 L811.19,187.34 L812.89,186.06 L814.59,184.78 L816.29,183.49 L818.00,182.21 L819.70,180.92 L821.40,179.64 L823.10,178.35 L824.80,177.07 L826.51,175.79 L828.21,174.50 L829.91,173.22 L831.61,171.93 L833.31,170.65 L835.02,169.36 L836.72,168.08 L838.42,166.79 L840.12,165.51 L841.82,164.22 L843.53,162.93 L845.23,161.65 L846.93,160.36 L848.63,159.08 L850.33,157.79 L852.04,156.51 L853.74,155.22 L855.44,153.93 L857.14,152.65 L858.84,151.36 L860.55,150.08 L862.25,148.79 L863.95,147.50 L865.65,146.22 L867.35,144.93 L869.06,143.64 L870.76,142.36 L872.46,141.07 L874.16,139.78 L875.86,138.49 L877.57,137.21 L879.27,135.92 L880.97,134.63 L882.67,133.35 L884.37,132.06 L886.08,130.77 L887.78,129.48 L889.48,128.20 L891.18,126.91 L892.88,125.62 L894.59,124.33 L896.29,123.04 L897.99,121.76 L899.69,120.47 L901.39,119.18 L903.10,117.89 L904.80,116.60 L906.50,115.32 L908.20,114.03 L909.90,112.74 L911.61,111.45 L913.31,110.16 L915.01,108.87 L916.71,107.58 L918.41,106.29 L920.12,105.01 L921.82,103.72 L923.52,102.43 L925.22,101.14 L926.92,99.85 L928.63,98.56 L930.33,97.27 L932.03,95.98 L933.73,94.69 L935.43,93.40 L937.14,92.11 L938.84,90.82 L940.54,89.53 L942.24,88.24 L943.94,86.95 L945.65,85.66 L947.35,84.37 L949.05,83.08 L950.75,81.79 L952.45,80.50 L954.16,79.21 L955.86,77.92 L957.56,76.63 L959.26,75.34 L960.96,74.05 L962.67,72.76 L964.37,71.47 L966.07,70.18 L967.77,68.88 L969.47,67.59 L971.18,66.30 L972.88,65.01 L974.58,63.72 L976.28,62.43 L977.98,61.14 L979.69,59.85 L981.39,58.56 L983.09,57.26 L984.79,55.97 L986.49,54.68 L988.20,53.39 L989.90,52.10 L991.60,50.80 L993.30,49.51" stroke="#ff0000" stroke-dasharray="21.6 5.1 10.4 5.1"/>
</g>
<g class="lg">
<path d="M469,464.50H548.3" stroke="#000000" stroke-width="5.30" fill="none"/>
<text transform="translate(553.46,469.50) scale(0.964,1)" font-size="23.90" text-anchor="start" fill="#000" class="g">σ</text><text transform="translate(570.70,483.30) scale(1.020,1)" font-size="22.60" text-anchor="start" fill="#000">r0</text><text transform="translate(599.60,468.90) scale(1.030,1)" font-size="28.30" text-anchor="start" fill="#000"> = 5</text><text transform="translate(641.60,470.60) scale(1.143,1)" font-size="25.07" text-anchor="start" fill="#000" class="g">μ</text><text transform="translate(660.00,468.90) scale(1.027,1)" font-size="28.30" text-anchor="start" fill="#000">m Gaussian, simulation</text>
<path d="M469,515.40H548.3" stroke="#00ff00" stroke-width="5.30" fill="none" stroke-dasharray="21.6 20.6"/>
<text transform="translate(553.46,520.60) scale(0.964,1)" font-size="23.90" text-anchor="start" fill="#000" class="g">σ</text><text transform="translate(570.70,534.40) scale(1.020,1)" font-size="22.60" text-anchor="start" fill="#000">r0</text><text transform="translate(599.60,520.00) scale(1.030,1)" font-size="28.30" text-anchor="start" fill="#000"> = 5</text><text transform="translate(641.60,521.70) scale(1.143,1)" font-size="25.07" text-anchor="start" fill="#000" class="g">μ</text><text transform="translate(660.00,520.00) scale(1.027,1)" font-size="28.30" text-anchor="start" fill="#000">m Gaussian, theory</text>
<path d="M469,566.50H548.3" stroke="#0000ff" stroke-width="5.30" fill="none" stroke-dasharray="5.8 4.75"/>
<text transform="translate(553.46,571.60) scale(0.964,1)" font-size="23.90" text-anchor="start" fill="#000" class="g">σ</text><text transform="translate(570.70,585.40) scale(1.020,1)" font-size="22.60" text-anchor="start" fill="#000">r0</text><text transform="translate(599.60,571.00) scale(1.030,1)" font-size="28.30" text-anchor="start" fill="#000"> = 5</text><text transform="translate(641.60,572.70) scale(1.143,1)" font-size="25.07" text-anchor="start" fill="#000" class="g">μ</text><text transform="translate(660.00,571.00) scale(1.027,1)" font-size="28.30" text-anchor="start" fill="#000">m uniform, simulation</text>
<path d="M469,617.50H548.3" stroke="#ff0000" stroke-width="5.30" fill="none" stroke-dasharray="21.6 5.1 10.4 5.1"/>
<text transform="translate(553.46,622.60) scale(0.964,1)" font-size="23.90" text-anchor="start" fill="#000" class="g">σ</text><text transform="translate(570.70,636.40) scale(1.020,1)" font-size="22.60" text-anchor="start" fill="#000">r0</text><text transform="translate(599.60,622.00) scale(1.030,1)" font-size="28.30" text-anchor="start" fill="#000"> = 5</text><text transform="translate(641.60,623.70) scale(1.143,1)" font-size="25.07" text-anchor="start" fill="#000" class="g">μ</text><text transform="translate(660.00,622.00) scale(1.027,1)" font-size="28.30" text-anchor="start" fill="#000">m uniform, theory</text>
</g>
<rect x="210.50" y="33.40" width="365.40" height="248.80" fill="#fff"/>
<g stroke="#262626" stroke-width="3.05" fill="none" stroke-linecap="butt">
<rect x="210.50" y="33.40" width="365.40" height="248.80"/>
<path d="M365.49,282.20V277.00 M365.49,33.40V38.60 M520.49,282.20V277.00 M520.49,33.40V38.60 M210.50,232.44H215.70 M575.90,232.44H570.70 M210.50,166.09H215.70 M575.90,166.09H570.70 M210.50,99.75H215.70 M575.90,99.75H570.70"/>
</g>
<g class="ax">
<text transform="translate(201.29,326.50) scale(1.030,1)" font-size="31.10" text-anchor="start" fill="#262626">0</text>
<text transform="translate(347.38,326.50) scale(1.030,1)" font-size="31.10" text-anchor="start" fill="#262626">20</text>
<text transform="translate(502.38,326.50) scale(1.030,1)" font-size="31.10" text-anchor="start" fill="#262626">40</text>
<text transform="translate(180.49,243.84) scale(1.030,1)" font-size="31.10" text-anchor="start" fill="#262626">6</text>
<text transform="translate(180.49,177.49) scale(1.030,1)" font-size="31.10" text-anchor="start" fill="#262626">8</text>
<text transform="translate(162.68,111.15) scale(1.030,1)" font-size="31.10" fill="#262626" dx="1.56 -1.56" clip-path="url(#c1i)">10</text>
<text transform="translate(162.68,44.80) scale(1.030,1)" font-size="31.10" fill="#262626" dx="1.56 -1.56" clip-path="url(#c1i)">12</text>
</g>
<g clip-path="url(#ci)" fill="none" stroke-width="5.30" stroke-linejoin="round">
<path d="M210.50,265.61 L212.44,265.60 L214.37,265.57 L216.31,265.52 L218.25,265.45 L220.19,265.36 L222.12,265.25 L224.06,265.12 L226.00,264.96 L227.94,264.79 L229.87,264.60 L231.81,264.38 L233.75,264.15 L235.69,263.90 L237.62,263.63 L239.56,263.33 L241.50,263.02 L243.44,262.69 L245.37,262.34 L247.31,261.97 L249.25,261.58 L251.19,261.17 L253.12,260.74 L255.06,260.29 L257.00,259.82 L258.94,259.33 L260.87,258.83 L262.81,258.30 L264.75,257.76 L266.69,257.20 L268.62,256.62 L270.56,256.02 L272.50,255.40 L274.44,254.77 L276.37,254.12 L278.31,253.45 L280.25,252.76 L282.19,252.05 L284.12,251.33 L286.06,250.59 L288.00,249.83 L289.93,249.06 L291.87,248.27 L293.81,247.46 L295.75,246.64 L297.68,245.80 L299.62,244.94 L301.56,244.07 L303.50,243.18 L305.43,242.28 L307.37,241.36 L309.31,240.42 L311.25,239.47 L313.18,238.51 L315.12,237.53 L317.06,236.53 L319.00,235.52 L320.93,234.50 L322.87,233.46 L324.81,232.41 L326.75,231.34 L328.68,230.26 L330.62,229.16 L332.56,228.05 L334.50,226.93 L336.43,225.80 L338.37,224.65 L340.31,223.49 L342.25,222.31 L344.18,221.13 L346.12,219.93 L348.06,218.72 L350.00,217.49 L351.93,216.26 L353.87,215.01 L355.81,213.75 L357.74,212.48 L359.68,211.19 L361.62,209.90 L363.56,208.59 L365.49,207.27 L367.43,205.95 L369.37,204.61 L371.31,203.26 L373.24,201.90 L375.18,200.52 L377.12,199.14 L379.06,197.75 L380.99,196.35 L382.93,194.94 L384.87,193.51 L386.81,192.08 L388.74,190.64 L390.68,189.19 L392.62,187.73 L394.56,186.26 L396.49,184.78 L398.43,183.29 L400.37,181.80 L402.31,180.29 L404.24,178.77 L406.18,177.25 L408.12,175.72 L410.06,174.18 L411.99,172.63 L413.93,171.07 L415.87,169.51 L417.81,167.93 L419.74,166.35 L421.68,164.76 L423.62,163.17 L425.56,161.56 L427.49,159.95 L429.43,158.33 L431.37,156.70 L433.30,155.07 L435.24,153.43 L437.18,151.78 L439.12,150.12 L441.05,148.46 L442.99,146.79 L444.93,145.11 L446.87,143.43 L448.80,141.74 L450.74,140.04 L452.68,138.34 L454.62,136.63 L456.55,134.92 L458.49,133.19 L460.43,131.47 L462.37,129.73 L464.30,127.99 L466.24,126.25 L468.18,124.49 L470.12,122.74 L472.05,120.97 L473.99,119.20 L475.93,117.43 L477.87,115.65 L479.80,113.86 L481.74,112.07 L483.68,110.27 L485.62,108.47 L487.55,106.66 L489.49,104.85 L491.43,103.03 L493.37,101.21 L495.30,99.38 L497.24,97.55 L499.18,95.71 L501.12,93.87 L503.05,92.02 L504.99,90.17 L506.93,88.31 L508.86,86.45 L510.80,84.58 L512.74,82.71 L514.68,80.83 L516.61,78.95 L518.55,77.07 L520.49,75.18 L522.43,73.29 L524.36,71.39 L526.30,69.49 L528.24,67.58 L530.18,65.67 L532.11,63.76 L534.05,61.84 L535.99,59.92 L537.93,57.99 L539.86,56.06 L541.80,54.13 L543.74,52.19 L545.68,50.25 L547.61,48.30 L549.55,46.35 L551.49,44.40 L553.43,42.45 L555.36,40.49 L557.30,38.52 L559.24,36.55 L561.18,34.58 L563.11,32.61 L565.05,30.63 L566.99,28.65 L568.93,26.67 L570.86,24.68 L572.80,22.69 L574.74,20.69 L576.67,18.70 L578.61,16.70 L580.55,14.69 L582.49,12.69 L584.42,10.68 L586.36,8.66 L588.30,6.65 L590.24,4.63 L592.17,2.61 L594.11,0.58 L596.05,-1.45 L597.99,-3.48 L599.92,-5.51 L601.86,-7.55 L603.80,-9.59 L605.74,-11.63 L607.67,-13.68 L609.61,-15.72 L611.55,-17.77 L613.49,-19.83 L615.42,-21.88 L617.36,-23.94 L619.30,-26.00 L621.24,-28.07 L623.17,-30.13 L625.11,-32.20 L627.05,-34.27 L628.99,-36.35 L630.92,-38.43 L632.86,-40.50 L634.80,-42.59 L636.74,-44.67 L638.67,-46.76 L640.61,-48.84 L642.55,-50.94 L644.49,-53.03 L646.42,-55.12 L648.36,-57.22 L650.30,-59.32 L652.23,-61.42 L654.17,-63.53 L656.11,-65.64 L658.05,-67.75 L659.98,-69.86 L661.92,-71.97 L663.86,-74.09 L665.80,-76.20 L667.73,-78.32 L669.67,-80.45 L671.61,-82.57 L673.55,-84.70 L675.48,-86.82" stroke="#000000"/>
<path d="M210.50,265.61 L212.44,265.60 L214.37,265.57 L216.31,265.52 L218.25,265.45 L220.19,265.36 L222.12,265.25 L224.06,265.12 L226.00,264.96 L227.94,264.79 L229.87,264.60 L231.81,264.39 L233.75,264.15 L235.69,263.90 L237.62,263.63 L239.56,263.34 L241.50,263.03 L243.44,262.70 L245.37,262.35 L247.31,261.98 L249.25,261.59 L251.19,261.18 L253.12,260.75 L255.06,260.30 L257.00,259.84 L258.94,259.35 L260.87,258.85 L262.81,258.33 L264.75,257.79 L266.69,257.23 L268.62,256.65 L270.56,256.06 L272.50,255.45 L274.44,254.81 L276.37,254.17 L278.31,253.50 L280.25,252.82 L282.19,252.12 L284.12,251.40 L286.06,250.66 L288.00,249.91 L289.93,249.15 L291.87,248.36 L293.81,247.56 L295.75,246.74 L297.68,245.91 L299.62,245.06 L301.56,244.19 L303.50,243.31 L305.43,242.42 L307.37,241.50 L309.31,240.58 L311.25,239.64 L313.18,238.68 L315.12,237.71 L317.06,236.72 L319.00,235.72 L320.93,234.71 L322.87,233.68 L324.81,232.63 L326.75,231.58 L328.68,230.51 L330.62,229.42 L332.56,228.33 L334.50,227.22 L336.43,226.09 L338.37,224.95 L340.31,223.81 L342.25,222.64 L344.18,221.47 L346.12,220.28 L348.06,219.08 L350.00,217.87 L351.93,216.65 L353.87,215.41 L355.81,214.17 L357.74,212.91 L359.68,211.64 L361.62,210.36 L363.56,209.07 L365.49,207.76 L367.43,206.45 L369.37,205.13 L371.31,203.79 L373.24,202.45 L375.18,201.09 L377.12,199.72 L379.06,198.35 L380.99,196.96 L382.93,195.57 L384.87,194.16 L386.81,192.74 L388.74,191.32 L390.68,189.88 L392.62,188.44 L394.56,186.99 L396.49,185.53 L398.43,184.06 L400.37,182.58 L402.31,181.09 L404.24,179.59 L406.18,178.08 L408.12,176.57 L410.06,175.05 L411.99,173.52 L413.93,171.98 L415.87,170.43 L417.81,168.88 L419.74,167.31 L421.68,165.74 L423.62,164.17 L425.56,162.58 L427.49,160.99 L429.43,159.39 L431.37,157.78 L433.30,156.16 L435.24,154.54 L437.18,152.91 L439.12,151.28 L441.05,149.63 L442.99,147.98 L444.93,146.33 L446.87,144.66 L448.80,143.00 L450.74,141.32 L452.68,139.64 L454.62,137.95 L456.55,136.25 L458.49,134.55 L460.43,132.84 L462.37,131.13 L464.30,129.41 L466.24,127.68 L468.18,125.95 L470.12,124.22 L472.05,122.47 L473.99,120.72 L475.93,118.97 L477.87,117.21 L479.80,115.45 L481.74,113.68 L483.68,111.90 L485.62,110.12 L487.55,108.33 L489.49,106.54 L491.43,104.74 L493.37,102.94 L495.30,101.14 L497.24,99.32 L499.18,97.51 L501.12,95.69 L503.05,93.86 L504.99,92.03 L506.93,90.19 L508.86,88.35 L510.80,86.51 L512.74,84.66 L514.68,82.81 L516.61,80.95 L518.55,79.08 L520.49,77.22 L522.43,75.35 L524.36,73.47 L526.30,71.59 L528.24,69.71 L530.18,67.82 L532.11,65.93 L534.05,64.03 L535.99,62.13 L537.93,60.23 L539.86,58.32 L541.80,56.41 L543.74,54.49 L545.68,52.57 L547.61,50.65 L549.55,48.72 L551.49,46.79 L553.43,44.86 L555.36,42.92 L557.30,40.98 L559.24,39.03 L561.18,37.09 L563.11,35.13 L565.05,33.18 L566.99,31.22 L568.93,29.26 L570.86,27.29 L572.80,25.33 L574.74,23.35 L576.67,21.38 L578.61,19.40 L580.55,17.42 L582.49,15.43 L584.42,13.45 L586.36,11.46 L588.30,9.46 L590.24,7.47 L592.17,5.47 L594.11,3.46 L596.05,1.46 L597.99,-0.55 L599.92,-2.56 L601.86,-4.58 L603.80,-6.59 L605.74,-8.61 L607.67,-10.64 L609.61,-12.66 L611.55,-14.69 L613.49,-16.72 L615.42,-18.76 L617.36,-20.79 L619.30,-22.83 L621.24,-24.87 L623.17,-26.92 L625.11,-28.96 L627.05,-31.01 L628.99,-33.06 L630.92,-35.12 L632.86,-37.17 L634.80,-39.23 L636.74,-41.29 L638.67,-43.36 L640.61,-45.42 L642.55,-47.49 L644.49,-49.56 L646.42,-51.64 L648.36,-53.71 L650.30,-55.79 L652.23,-57.87 L654.17,-59.95 L656.11,-62.04 L658.05,-64.12 L659.98,-66.21 L661.92,-68.30 L663.86,-70.40 L665.80,-72.49 L667.73,-74.59 L669.67,-76.69 L671.61,-78.79 L673.55,-80.90 L675.48,-83.00" stroke="#00ff00" stroke-dasharray="21.6 20.6"/>
<path d="M210.50,265.61 L212.44,265.60 L214.37,265.57 L216.31,265.52 L218.25,265.45 L220.19,265.36 L222.12,265.25 L224.06,265.12 L226.00,264.97 L227.94,264.80 L229.87,264.61 L231.81,264.40 L233.75,264.17 L235.69,263.92 L237.62,263.65 L239.56,263.36 L241.50,263.05 L243.44,262.72 L245.37,262.37 L247.31,262.00 L249.25,261.61 L251.19,261.21 L253.12,260.78 L255.06,260.34 L257.00,259.87 L258.94,259.39 L260.87,258.89 L262.81,258.37 L264.75,257.83 L266.69,257.27 L268.62,256.70 L270.56,256.10 L272.50,255.49 L274.44,254.86 L276.37,254.22 L278.31,253.55 L280.25,252.87 L282.19,252.17 L284.12,251.45 L286.06,250.72 L288.00,249.97 L289.93,249.20 L291.87,248.41 L293.81,247.62 L295.75,246.80 L297.68,245.97 L299.62,245.12 L301.56,244.26 L303.50,243.38 L305.43,242.49 L307.37,241.59 L309.31,240.66 L311.25,239.73 L313.18,238.78 L315.12,237.81 L317.06,236.84 L319.00,235.84 L320.93,234.84 L322.87,233.82 L324.81,232.79 L326.75,231.74 L328.68,230.68 L330.62,229.61 L332.56,228.52 L334.50,227.43 L336.43,226.32 L338.37,225.19 L340.31,224.06 L342.25,222.91 L344.18,221.75 L346.12,220.58 L348.06,219.40 L350.00,218.21 L351.93,217.00 L353.87,215.79 L355.81,214.56 L357.74,213.33 L359.68,212.08 L361.62,210.82 L363.56,209.55 L365.49,208.27 L367.43,206.99 L369.37,205.70 L371.31,204.42 L373.24,203.14 L375.18,201.86 L377.12,200.57 L379.06,199.29 L380.99,198.00 L382.93,196.70 L384.87,195.40 L386.81,194.10 L388.74,192.79 L390.68,191.47 L392.62,190.15 L394.56,188.81 L396.49,187.47 L398.43,186.11 L400.37,184.75 L402.31,183.37 L404.24,181.98 L406.18,180.58 L408.12,179.16 L410.06,177.73 L411.99,176.28 L413.93,174.82 L415.87,173.34 L417.81,171.86 L419.74,170.36 L421.68,168.86 L423.62,167.35 L425.56,165.82 L427.49,164.29 L429.43,162.75 L431.37,161.20 L433.30,159.64 L435.24,158.07 L437.18,156.49 L439.12,154.91 L441.05,153.32 L442.99,151.72 L444.93,150.12 L446.87,148.50 L448.80,146.89 L450.74,145.26 L452.68,143.63 L454.62,141.99 L456.55,140.35 L458.49,138.70 L460.43,137.05 L462.37,135.40 L464.30,133.73 L466.24,132.07 L468.18,130.40 L470.12,128.72 L472.05,127.04 L473.99,125.36 L475.93,123.68 L477.87,121.99 L479.80,120.30 L481.74,118.61 L483.68,116.91 L485.62,115.21 L487.55,113.52 L489.49,111.82 L491.43,110.12 L493.37,108.42 L495.30,106.73 L497.24,105.04 L499.18,103.35 L501.12,101.67 L503.05,99.99 L504.99,98.31 L506.93,96.63 L508.86,94.95 L510.80,93.27 L512.74,91.59 L514.68,89.91 L516.61,88.23 L518.55,86.55 L520.49,84.87 L522.43,83.18 L524.36,81.49 L526.30,79.80 L528.24,78.11 L530.18,76.41 L532.11,74.71 L534.05,73.00 L535.99,71.29 L537.93,69.57 L539.86,67.85 L541.80,66.12 L543.74,64.39 L545.68,62.65 L547.61,60.90 L549.55,59.14 L551.49,57.38 L553.43,55.60 L555.36,53.82 L557.30,52.03 L559.24,50.23 L561.18,48.42 L563.11,46.59 L565.05,44.76 L566.99,42.92 L568.93,41.06 L570.86,39.20 L572.80,37.34 L574.74,35.47 L576.67,33.60 L578.61,31.72 L580.55,29.84 L582.49,27.95 L584.42,26.06 L586.36,24.16 L588.30,22.26 L590.24,20.35 L592.17,18.44 L594.11,16.53 L596.05,14.61 L597.99,12.69 L599.92,10.76 L601.86,8.83 L603.80,6.89 L605.74,4.95 L607.67,3.01 L609.61,1.06 L611.55,-0.89 L613.49,-2.84 L615.42,-4.80 L617.36,-6.76 L619.30,-8.72 L621.24,-10.69 L623.17,-12.66 L625.11,-14.64 L627.05,-16.62 L628.99,-18.60 L630.92,-20.58 L632.86,-22.57 L634.80,-24.56 L636.74,-26.55 L638.67,-28.55 L640.61,-30.54 L642.55,-32.54 L644.49,-34.55 L646.42,-36.55 L648.36,-38.56 L650.30,-40.57 L652.23,-42.59 L654.17,-44.60 L656.11,-46.62 L658.05,-48.64 L659.98,-50.67 L661.92,-52.69 L663.86,-54.72 L665.80,-56.75 L667.73,-58.78 L669.67,-60.81 L671.61,-62.84 L673.55,-64.88 L675.48,-66.92" stroke="#0000ff" stroke-dasharray="5.8 4.75"/>
<path d="M210.50,265.61 L212.44,265.60 L214.37,265.57 L216.31,265.52 L218.25,265.45 L220.19,265.36 L222.12,265.25 L224.06,265.12 L226.00,264.97 L227.94,264.80 L229.87,264.61 L231.81,264.40 L233.75,264.17 L235.69,263.92 L237.62,263.65 L239.56,263.36 L241.50,263.05 L243.44,262.72 L245.37,262.37 L247.31,262.00 L249.25,261.61 L251.19,261.21 L253.12,260.78 L255.06,260.34 L257.00,259.87 L258.94,259.39 L260.87,258.89 L262.81,258.37 L264.75,257.83 L266.69,257.27 L268.62,256.70 L270.56,256.10 L272.50,255.49 L274.44,254.86 L276.37,254.22 L278.31,253.55 L280.25,252.87 L282.19,252.17 L284.12,251.45 L286.06,250.72 L288.00,249.97 L289.93,249.20 L291.87,248.41 L293.81,247.62 L295.75,246.80 L297.68,245.97 L299.62,245.12 L301.56,244.26 L303.50,243.38 L305.43,242.49 L307.37,241.59 L309.31,240.66 L311.25,239.73 L313.18,238.78 L315.12,237.81 L317.06,236.84 L319.00,235.84 L320.93,234.84 L322.87,233.82 L324.81,232.79 L326.75,231.74 L328.68,230.68 L330.62,229.61 L332.56,228.52 L334.50,227.43 L336.43,226.32 L338.37,225.19 L340.31,224.06 L342.25,222.91 L344.18,221.75 L346.12,220.58 L348.06,219.40 L350.00,218.21 L351.93,217.00 L353.87,215.79 L355.81,214.56 L357.74,213.33 L359.68,212.08 L361.62,210.82 L363.56,209.55 L365.49,208.27 L367.43,206.99 L369.37,205.70 L371.31,204.42 L373.24,203.14 L375.18,201.86 L377.12,200.57 L379.06,199.29 L380.99,198.00 L382.93,196.70 L384.87,195.40 L386.81,194.10 L388.74,192.79 L390.68,191.47 L392.62,190.15 L394.56,188.81 L396.49,187.47 L398.43,186.11 L400.37,184.75 L402.31,183.37 L404.24,181.98 L406.18,180.58 L408.12,179.16 L410.06,177.73 L411.99,176.28 L413.93,174.82 L415.87,173.34 L417.81,171.86 L419.74,170.36 L421.68,168.86 L423.62,167.35 L425.56,165.82 L427.49,164.29 L429.43,162.75 L431.37,161.20 L433.30,159.64 L435.24,158.07 L437.18,156.49 L439.12,154.91 L441.05,153.32 L442.99,151.72 L444.93,150.12 L446.87,148.50 L448.80,146.89 L450.74,145.26 L452.68,143.63 L454.62,141.99 L456.55,140.35 L458.49,138.70 L460.43,137.05 L462.37,135.40 L464.30,133.73 L466.24,132.07 L468.18,130.40 L470.12,128.72 L472.05,127.04 L473.99,125.36 L475.93,123.68 L477.87,121.99 L479.80,120.30 L481.74,118.61 L483.68,116.91 L485.62,115.21 L487.55,113.52 L489.49,111.82 L491.43,110.12 L493.37,108.42 L495.30,106.73 L497.24,105.04 L499.18,103.35 L501.12,101.67 L503.05,99.99 L504.99,98.31 L506.93,96.63 L508.86,94.95 L510.80,93.27 L512.74,91.59 L514.68,89.91 L516.61,88.23 L518.55,86.55 L520.49,84.87 L522.43,83.18 L524.36,81.49 L526.30,79.80 L528.24,78.11 L530.18,76.41 L532.11,74.71 L534.05,73.00 L535.99,71.29 L537.93,69.57 L539.86,67.85 L541.80,66.12 L543.74,64.39 L545.68,62.65 L547.61,60.90 L549.55,59.14 L551.49,57.38 L553.43,55.60 L555.36,53.82 L557.30,52.03 L559.24,50.23 L561.18,48.42 L563.11,46.59 L565.05,44.76 L566.99,42.92 L568.93,41.06 L570.86,39.20 L572.80,37.34 L574.74,35.47 L576.67,33.60 L578.61,31.72 L580.55,29.84 L582.49,27.95 L584.42,26.06 L586.36,24.16 L588.30,22.26 L590.24,20.35 L592.17,18.44 L594.11,16.53 L596.05,14.61 L597.99,12.69 L599.92,10.76 L601.86,8.83 L603.80,6.89 L605.74,4.95 L607.67,3.01 L609.61,1.06 L611.55,-0.89 L613.49,-2.84 L615.42,-4.80 L617.36,-6.76 L619.30,-8.72 L621.24,-10.69 L623.17,-12.66 L625.11,-14.64 L627.05,-16.62 L628.99,-18.60 L630.92,-20.58 L632.86,-22.57 L634.80,-24.56 L636.74,-26.55 L638.67,-28.55 L640.61,-30.54 L642.55,-32.54 L644.49,-34.55 L646.42,-36.55 L648.36,-38.56 L650.30,-40.57 L652.23,-42.59 L654.17,-44.60 L656.11,-46.62 L658.05,-48.64 L659.98,-50.67 L661.92,-52.69 L663.86,-54.72 L665.80,-56.75 L667.73,-58.78 L669.67,-60.81 L671.61,-62.84 L673.55,-64.88 L675.48,-66.92" stroke="#ff0000" stroke-dasharray="21.6 5.1 10.4 5.1"/>
</g>
</svg></body></html>
